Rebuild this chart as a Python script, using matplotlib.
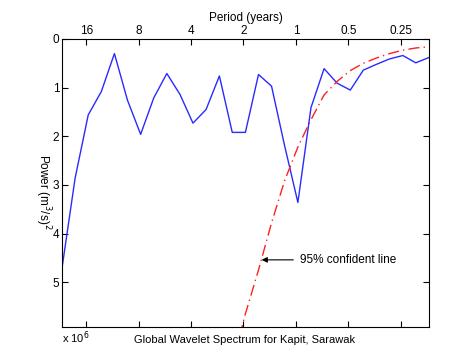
import numpy as np
import matplotlib
matplotlib.use("Agg")
import matplotlib.pyplot as plt
from matplotlib.ticker import FixedLocator, NullLocator

plt.rcParams['font.family'] = ['Liberation Sans', 'DejaVu Sans']

# Periods (years), quarter-octave spacing, longest first
periods = [22.04, 18.53, 15.58, 13.10, 11.02, 9.27, 7.79, 6.55, 5.51, 4.63,
           3.90, 3.28, 2.75, 2.32, 1.95, 1.64, 1.38, 1.16, 0.974, 0.819,
           0.689, 0.579, 0.487, 0.410, 0.344, 0.290, 0.243, 0.205, 0.172]
# Global wavelet power (x 10^6 (m^3/s)^2)
power = [4.71, 2.86, 1.56, 1.08, 0.30, 1.26, 1.96, 1.21, 0.71, 1.14,
         1.73, 1.45, 0.76, 1.92, 1.92, 0.73, 0.97, 2.20, 3.36, 1.41,
         0.61, 0.91, 1.05, 0.64, 0.52, 0.41, 0.34, 0.49, 0.38]
# 95% significance level (x 10^6)
sig_periods = [2.32, 1.95, 1.64, 1.38, 1.16, 0.974, 0.819, 0.689, 0.579,
               0.487, 0.410, 0.344, 0.290, 0.243, 0.205, 0.172]
sig95 = [6.70, 5.65, 4.75, 3.78, 2.91, 2.22, 1.66, 1.15, 0.87,
         0.65, 0.50, 0.39, 0.30, 0.23, 0.185, 0.16]

xticks = [16, 8, 4, 2, 1, 0.5, 0.25]
xticklabels = ['16', '8', '4', '2', '1', '0.5', '0.25']
yticks = [0, 1, 2, 3, 4, 5]

fig = plt.figure(figsize=(4.74, 3.55), dpi=100)
ax = fig.add_axes([0.1308, 0.0789, 0.7743, 0.8113])

ax.plot(periods, power, color='#2a2aff', lw=1.0)
ax.plot(sig_periods, sig95, color='#ff2020', lw=1.0, linestyle=(0, (8, 3, 1, 3)))

ax.set_xscale('log', base=2)
ax.set_xlim(22.04, 0.172)
ax.set_ylim(5.92, 0)

ax.xaxis.set_major_locator(FixedLocator(xticks))
ax.xaxis.set_minor_locator(NullLocator())
ax.set_xticklabels(xticklabels)
ax.set_yticks(yticks)
ax.tick_params(axis='both', which='both', direction='in', length=4,
               labelsize=8.5, top=True, bottom=True, left=True, right=True,
               labeltop=True, labelbottom=False, pad=2)
ax.tick_params(axis='x', pad=1.5)
ax.xaxis.set_label_position('top')
ax.set_xlabel('Period (years)', fontsize=8.5, labelpad=3)
ax.set_ylabel('Power (m$^3$/s)$^2$', fontsize=8.5, rotation=270,
              labelpad=12, va='center')
ax.yaxis.set_label_coords(-0.052, 0.47)

for s in ax.spines.values():
    s.set_linewidth(0.8)

ax.annotate('95% confident line', xy=(1.573, 4.54), xytext=(0.944, 4.54),
            fontsize=8.5, va='center', ha='left',
            arrowprops=dict(arrowstyle='-|>', color='black', lw=0.8,
                            shrinkA=3, shrinkB=0, mutation_scale=8))

fig.text(0.515, 0.042, 'Global Wavelet Spectrum for Kapit, Sarawak',
         fontsize=8, ha='center', va='center')
fig.text(0.131, 0.048, r'x 10$^6$', fontsize=8, ha='left', va='center')

fig.savefig('out.png', dpi=100)
